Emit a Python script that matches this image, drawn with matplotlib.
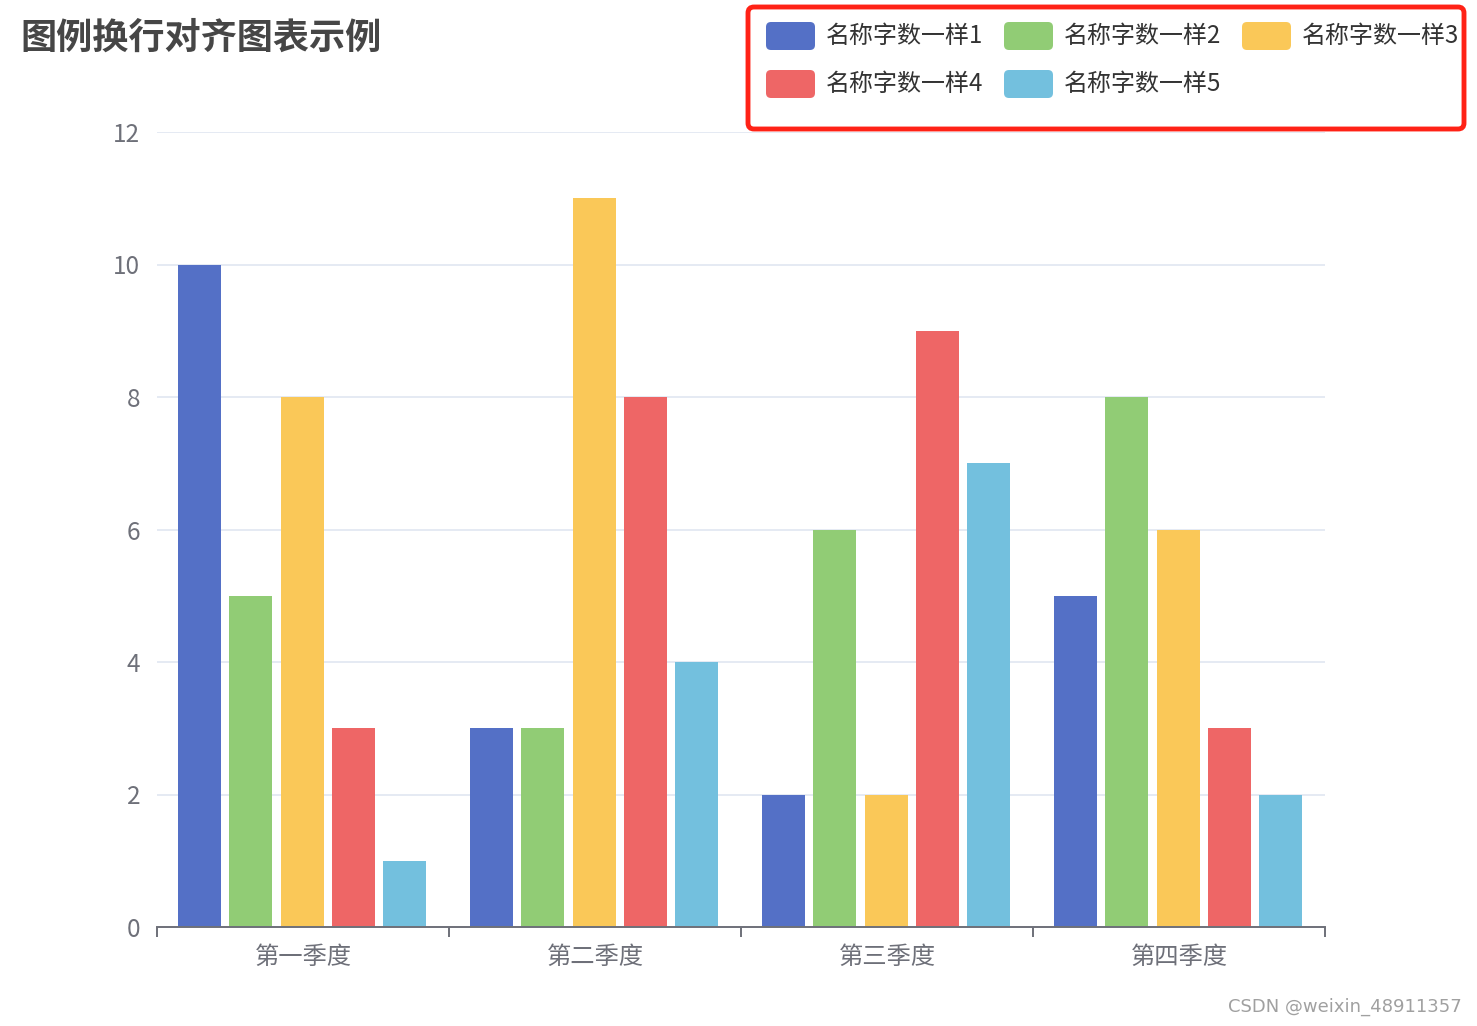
import matplotlib
matplotlib.use("Agg")
from matplotlib import pyplot as plt
from matplotlib.patches import FancyBboxPatch
import numpy as np

plt.rcParams['font.family'] = ['Noto Sans CJK SC', 'DejaVu Sans']

title = "图例换行对齐图表示例"
categories = ["第一季度", "第二季度", "第三季度", "第四季度"]
series_names = ["名称字数一样1", "名称字数一样2", "名称字数一样3", "名称字数一样4", "名称字数一样5"]
series_values = [
    [10, 3, 2, 5],
    [5, 3, 6, 8],
    [8, 11, 2, 6],
    [3, 8, 9, 3],
    [1, 4, 7, 2],
]
colors = ["#5470c6", "#91cc75", "#fac858", "#ee6666", "#73c0de"]
y_ticks = [0, 2, 4, 6, 8, 10, 12]

W, H = 1477, 1026
fig = plt.figure(figsize=(W / 100, H / 100), dpi=100)
ax = fig.add_axes([157 / W, 1 - 927 / H, (1325 - 157) / W, (927 - 132) / H])

x = np.arange(len(categories))
bar_w = 43 / 292
step = 51.3 / 292
for i, (name, vals) in enumerate(zip(series_names, series_values)):
    offset = (i - (len(series_names) - 1) / 2) * step
    ax.bar(x + offset - 0.003, vals, width=bar_w, color=colors[i], label=name, zorder=3)

ax.set_xlim(-0.5, len(categories) - 0.5)
ax.set_ylim(0, 12)
ax.set_yticks(y_ticks)
ax.set_yticklabels([str(v) for v in y_ticks])
ax.yaxis.grid(True, color="#E0E6F1", linewidth=1.2, zorder=0)
ax.tick_params(axis="y", length=0, pad=12, labelsize=17.5, labelcolor="#6E7079")

ax.set_xticks(np.arange(len(categories) + 1) - 0.5)
ax.set_xticklabels([])
ax.set_xticks(x, minor=True)
ax.set_xticklabels(categories, minor=True)
ax.tick_params(axis="x", which="major", length=7, width=1.4, color="#6E7079", direction="out")
ax.tick_params(axis="x", which="minor", length=0, pad=12, labelsize=17.5, labelcolor="#6E7079")

for s in ["left", "right", "top"]:
    ax.spines[s].set_visible(False)
ax.spines["bottom"].set_color("#6E7079")
ax.spines["bottom"].set_linewidth(1.4)
ax.spines["bottom"].set_zorder(4)

# overlay in pixel coordinates for title, legend and watermark
ov = fig.add_axes([0, 0, 1, 1], zorder=10)
ov.set_xlim(0, W)
ov.set_ylim(H, 0)
ov.axis("off")
ov.patch.set_alpha(0)

ov.text(20, 38, title, fontsize=26, fontweight="bold", color="#464646", va="center", ha="left")

ov.add_patch(FancyBboxPatch((748, 7), 716, 122, boxstyle="round,pad=0,rounding_size=6",
                            facecolor="none", edgecolor="#FF2216", linewidth=3.5))
for i, name in enumerate(series_names):
    row, col = divmod(i, 3)
    sx = 766 + col * 238
    cy = 36 + row * 48
    ov.add_patch(FancyBboxPatch((sx, cy - 14), 49, 28, boxstyle="round,pad=0,rounding_size=5",
                                facecolor=colors[i], edgecolor="none"))
    ov.text(sx + 60, cy, name, fontsize=17.3, color="#333333", va="center", ha="left")

ov.text(1462, 1007, "CSDN @weixin_48911357", fontsize=13, color="#A0A0A0", va="center", ha="right",
        family=["DejaVu Sans"])

fig.savefig("out.png", dpi=100)
